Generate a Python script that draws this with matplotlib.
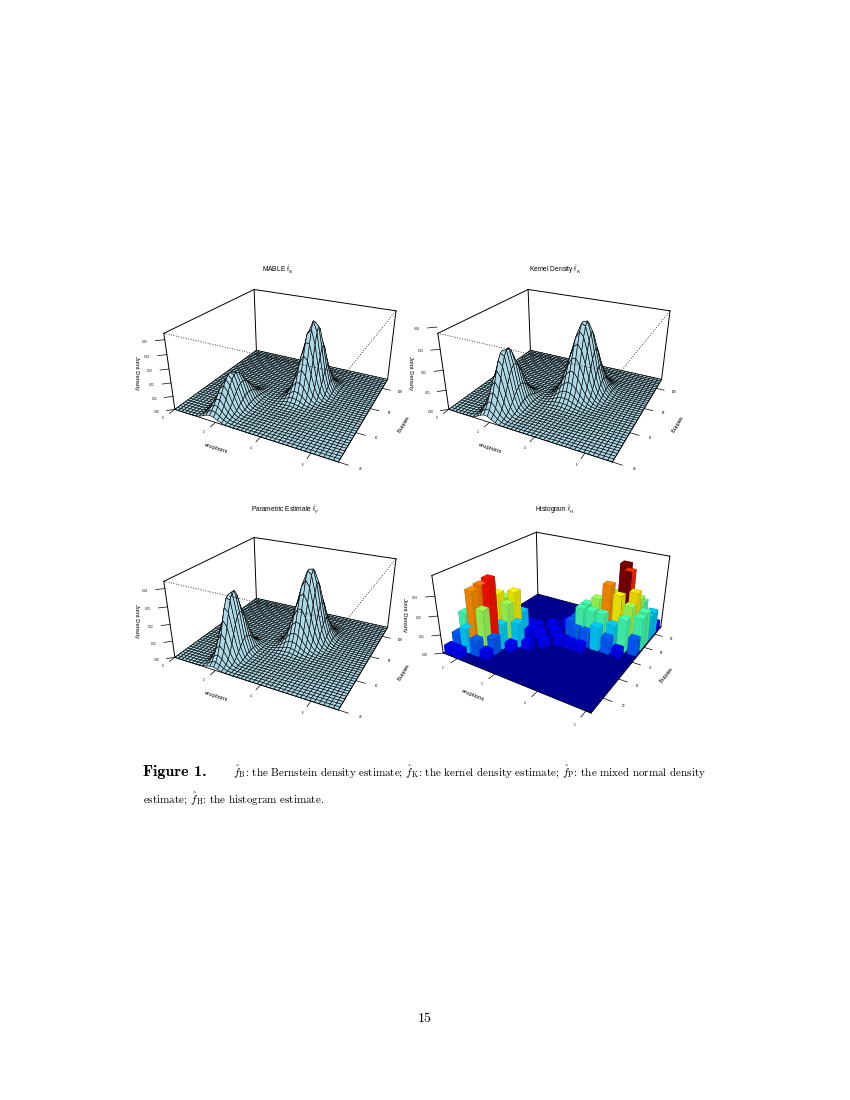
import numpy as np
import matplotlib
matplotlib.use("Agg")
import matplotlib.pyplot as plt
from mpl_toolkits.mplot3d import proj3d

plt.rcParams['mathtext.fontset'] = 'cm'
plt.rcParams['font.family'] = ['Liberation Sans', 'DejaVu Sans']

# ---------------- data ----------------
eruptions_range = [0.0, 7.0]
waiting_range = [40.0, 110.0]
eruptions_ticks = [0, 2, 4, 6]
waiting_ticks = [40, 60, 80, 100]
grid_points = 41

# MABLE (Bernstein) estimate: two bumps
mable_weight = [0.36, 0.64]
mable_mean_e = [2.00, 4.40]
mable_mean_w = [54.5, 81.0]
mable_sd_e = [0.32, 0.36]
mable_sd_w = [7.5, 5.8]
mable_rho = [0.40, 0.45]
mable_zticks = [0.00, 0.01, 0.02, 0.03, 0.04, 0.05]

# Kernel density estimate
kernel_weight = [0.36, 0.64]
kernel_mean_e = [2.03, 4.30]
kernel_mean_w = [54.5, 80.0]
kernel_sd_e = [0.30, 0.45]
kernel_sd_w = [6.8, 6.4]
kernel_rho = [0.35, 0.35]
kernel_zticks = [0.00, 0.01, 0.02, 0.03, 0.04]

# Parametric (mixed normal) estimate
param_weight = [0.356, 0.644]
param_mean_e = [2.036, 4.290]
param_mean_w = [54.48, 79.97]
param_sd_e = [0.263, 0.412]
param_sd_w = [5.80, 6.00]
param_rho = [0.285, 0.380]
param_zticks = [0.00, 0.01, 0.02, 0.03, 0.04]

# Histogram estimate
hist_e_edges = [1.60, 1.85, 2.10, 2.35, 2.60, 2.85, 3.10, 3.35, 3.60, 3.85, 4.10, 4.35, 4.60, 4.85, 5.10]
hist_w_edges = [43.0, 46.8, 50.6, 54.4, 58.1, 61.9, 65.7, 69.5, 73.3, 77.1, 80.9, 84.6, 88.4, 92.2, 96.0]
hist_counts = [
    [1, 2, 4, 2, 1, 1, 0, 0, 0, 0, 0, 0, 0, 0],
    [1, 3, 7, 7, 5, 3, 1, 0, 0, 0, 0, 0, 0, 0],
    [0, 2, 5, 8, 6, 5, 2, 0, 0, 0, 0, 0, 0, 0],
    [0, 1, 2, 3, 5, 6, 3, 1, 0, 0, 0, 0, 0, 0],
    [0, 0, 0, 1, 3, 1, 1, 1, 0, 0, 0, 0, 0, 0],
    [0, 0, 0, 0, 1, 0, 1, 0, 1, 0, 0, 0, 0, 0],
    [0, 0, 0, 0, 0, 1, 0, 1, 0, 1, 0, 0, 0, 0],
    [0, 0, 0, 0, 0, 0, 1, 0, 2, 2, 1, 0, 0, 0],
    [0, 0, 0, 0, 0, 0, 1, 2, 4, 4, 2, 1, 0, 0],
    [0, 0, 0, 0, 0, 0, 1, 2, 4, 5, 4, 2, 1, 0],
    [0, 0, 0, 0, 0, 0, 0, 3, 4, 7, 5, 5, 3, 1],
    [0, 0, 0, 0, 0, 0, 0, 2, 3, 6, 9, 8, 4, 1],
    [0, 0, 0, 0, 0, 0, 0, 1, 4, 5, 6, 5, 4, 2],
    [0, 0, 0, 0, 0, 0, 0, 0, 2, 4, 4, 3, 3, 1],
]
hist_e_ticks = [2, 3, 4, 5]
hist_w_ticks = [50, 60, 70, 80, 90]
hist_zticks = [0.00, 0.01, 0.02, 0.03]

titles = [r'MABLE $\hat{\mathsf{f}}_{\mathsf{B}}$', r'Kernel Density $\hat{\mathsf{f}}_{\mathsf{K}}$',
          r'Parametric Estimate $\hat{\mathsf{f}}_{\mathsf{P}}$', r'Histogram $\hat{\mathsf{f}}_{\mathsf{H}}$']

# ---------------- view settings ----------------
SURF_VIEW = dict(elev=26, azim=-63, focal=0.20, box=(1.1, 1.0, 0.52), zoom=0.63)
HIST_VIEW = dict(elev=26, azim=-58, focal=0.20, box=(1.0, 1.0, 0.50), zoom=0.64)


def mixture(E, W, wts, me, mw, se, sw, rho):
    Z = np.zeros_like(E)
    for p, a, b, s1, s2, r in zip(wts, me, mw, se, sw, rho):
        u = (E - a) / s1
        v = (W - b) / s2
        q = (u * u - 2 * r * u * v + v * v) / (1 - r * r)
        Z += p * np.exp(-q / 2) / (2 * np.pi * s1 * s2 * np.sqrt(1 - r * r))
    return Z


fig = plt.figure(figsize=(8.5, 11), dpi=100)


def P(ax, x, y, z):
    xs, ys, _ = proj3d.proj_transform(np.atleast_1d(float(x)), np.atleast_1d(float(y)),
                                      np.atleast_1d(float(z)), ax.get_proj())
    return xs[0], ys[0]


def angle(ax, p0, p1):
    a = P(ax, *p0)
    b = P(ax, *p1)
    return np.degrees(np.arctan2(b[1] - a[1], b[0] - a[0]))


def make_axes(rect, xr, yr, zr, view):
    ax = fig.add_axes(rect, projection='3d')
    ax.patch.set_visible(False)
    ax.set_proj_type('persp', focal_length=view['focal'])
    ax.view_init(elev=view['elev'], azim=view['azim'])
    ax.set_box_aspect(view['box'], zoom=view['zoom'])
    ax.set_xlim(xr)
    ax.set_ylim(yr)
    ax.set_zlim(zr)
    ax.set_axis_off()
    ax.computed_zorder = False
    return ax


def box_back(ax, xr, yr, zr):
    x0, x1 = xr
    y0, y1 = yr
    z0, z1 = zr
    kw = dict(color='black', lw=0.7, zorder=1)
    ax.plot([x0, x0], [y0, y0], [z0, z1], **kw)
    ax.plot([x0, x0], [y1, y1], [z0, z1], **kw)
    ax.plot([x1, x1], [y1, y1], [z0, z1], **kw)
    ax.plot([x0, x0], [y0, y1], [z1, z1], **kw)
    ax.plot([x0, x1], [y1, y1], [z1, z1], **kw)
    ax.plot([x0, x0], [y0, y1], [z0, z0], **kw)
    ax.plot([x0, x1], [y1, y1], [z0, z0], **kw)


def box_front(ax, xr, yr, zr, dotted=True):
    x0, x1 = xr
    y0, y1 = yr
    z0, z1 = zr
    if dotted:
        kw = dict(color='black', lw=0.6, ls=(0, (1, 2)), zorder=4)
        ax.plot([x0, x1], [y0, y0], [z1, z1], **kw)
        ax.plot([x1, x1], [y0, y1], [z1, z1], **kw)
    kw = dict(color='black', lw=0.6, zorder=4)
    ax.plot([x0, x1], [y0, y0], [z0, z0], **kw)
    ax.plot([x1, x1], [y0, y1], [z0, z0], **kw)


def axes_decor(ax, xr, yr, zr, xt, yt, zt, zfmt):
    x0, x1 = xr
    y0, y1 = yr
    z0, z1 = zr
    dx, dy = x1 - x0, y1 - y0
    kw = dict(color='black', lw=0.5, zorder=4)
    fs = 2.2
    for t in xt:
        ax.plot([t, t], [y0, y0 - 0.05 * dy], [z0, z0], **kw)
        px, py = P(ax, t, y0 - 0.11 * dy, z0)
        ax.text2D(px, py, f"{t:g}", transform=ax.transData, fontsize=fs, ha='center', va='center')
    for t in yt:
        ax.plot([x1, x1 + 0.05 * dx], [t, t], [z0, z0], **kw)
        px, py = P(ax, x1 + 0.11 * dx, t, z0)
        ax.text2D(px, py, f"{t:g}", transform=ax.transData, fontsize=fs, ha='center', va='center')
    for t in zt:
        ax.plot([x0, x0 - 0.035 * dx], [y0, y0 - 0.035 * dy], [t, t], **kw)
        px, py = P(ax, x0 - 0.075 * dx, y0 - 0.075 * dy, t)
        ax.text2D(px, py, zfmt.format(t), transform=ax.transData, fontsize=fs, ha='center', va='center')
    # axis titles
    ang = angle(ax, (x0, y0, z0), (x1, y0, z0))
    px, py = P(ax, x0 + 0.42 * dx, y0 - 0.20 * dy, z0)
    ax.text2D(px, py, 'eruptions', transform=ax.transData, fontsize=4.2, ha='center', va='center',
              rotation=ang, rotation_mode='anchor')
    ang = angle(ax, (x1, y0, z0), (x1, y1, z0))
    px, py = P(ax, x1 + 0.20 * dx, y0 + 0.5 * dy, z0)
    ax.text2D(px, py, 'waiting', transform=ax.transData, fontsize=4.2, ha='center', va='center',
              rotation=ang - 180, rotation_mode='anchor')
    px, py = P(ax, x0 - 0.125 * dx, y0 - 0.125 * dy, 0.55 * (z0 + z1))
    ax.text2D(px, py, 'Joint Density', transform=ax.transData, fontsize=4.2, ha='center', va='center',
              rotation=-90, rotation_mode='anchor')


E, W = np.meshgrid(np.linspace(eruptions_range[0], eruptions_range[1], grid_points),
                   np.linspace(waiting_range[0], waiting_range[1], grid_points), indexing='ij')

surfaces = [
    mixture(E, W, mable_weight, mable_mean_e, mable_mean_w, mable_sd_e, mable_sd_w, mable_rho),
    mixture(E, W, kernel_weight, kernel_mean_e, kernel_mean_w, kernel_sd_e, kernel_sd_w, kernel_rho),
    mixture(E, W, param_weight, param_mean_e, param_mean_w, param_sd_e, param_sd_w, param_rho),
]
zticks_list = [mable_zticks, kernel_zticks, param_zticks]

AW = 0.44
AH = AW * 850 / 1100
centers = [(283, 364), (557, 364), (283, 612), (553, 609)]
rects = [[cx / 850 - AW / 2, 1 - cy / 1100 - AH / 2, AW, AH] for cx, cy in centers]
title_pos = [(278, 270), (555, 270), (285, 510), (555, 510)]

for k in range(3):
    Z = surfaces[k]
    zr = (0.0, float(Z.max()))
    ax = make_axes(rects[k], eruptions_range, waiting_range, zr, SURF_VIEW)
    box_back(ax, eruptions_range, waiting_range, zr)
    ax.plot_surface(E, W, Z, color='#ADD8E6', edgecolor='#000000', linewidth=0.42,
                    rstride=1, cstride=1, shade=False, antialiased=True, zorder=2)
    box_front(ax, eruptions_range, waiting_range, zr)
    axes_decor(ax, eruptions_range, waiting_range, zr, eruptions_ticks, waiting_ticks,
               zticks_list[k], "{:.2f}")

# histogram panel
counts = np.array(hist_counts, dtype=float)
ee = np.array(hist_e_edges)
we = np.array(hist_w_edges)
dens = counts / (counts.sum() * np.outer(np.diff(ee), np.diff(we)))
hx = (ee[0], ee[-1])
hy = (we[0], we[-1])
hz = (0.0, float(dens.max()))
ax = make_axes(rects[3], hx, hy, hz, HIST_VIEW)
box_back(ax, hx, hy, hz)
FX, FY = np.meshgrid([ee[0], ee[-1]], [we[0], we[-1]], indexing='ij')
ax.plot_surface(FX, FY, np.zeros_like(FX), color='#00008F', shade=False, linewidth=0, zorder=2)
cmap = plt.get_cmap('jet')
ii, jj = np.nonzero(counts)
bw = 0.78
xs = ee[ii] + (1 - bw) / 2 * np.diff(ee)[ii]
ys = we[jj] + (1 - bw) / 2 * np.diff(we)[jj]
base = cmap(dens[ii, jj] / dens.max())[:, :3]
face_factor = [1.0, 1.0, 0.9, 0.8, 0.75, 0.85]
face_cols = []
for c in base:
    for f in face_factor:
        face_cols.append(tuple(np.clip(c * f, 0, 1)))
ax.bar3d(xs, ys, np.zeros(len(ii)), bw * np.diff(ee)[ii], bw * np.diff(we)[jj], dens[ii, jj],
         color=face_cols, shade=False, zorder=3, edgecolor=(0, 0, 0, 0.15), linewidth=0.2)
box_front(ax, hx, hy, hz, dotted=False)
axes_decor(ax, hx, hy, hz, hist_e_ticks, hist_w_ticks, hist_zticks, "{:.2f}")

for (tx, ty), t in zip(title_pos, titles):
    fig.text(tx / 850, 1 - ty / 1100, t, fontsize=4.8, ha='center', va='center')

# caption
fig.text(143 / 850, 1 - 776 / 1100, 'Figure 1.', fontfamily='cmb10', fontsize=11.5, ha='left', va='baseline')
fig.text(233 / 850, 1 - 776 / 1100,
         r'$\hat{f}_{\mathrm{B}}$: the Bernstein density estimate; $\hat{f}_{\mathrm{K}}$: the kernel density estimate; '
         r'$\hat{f}_{\mathrm{P}}$: the mixed normal density',
         fontfamily='cmr10', fontsize=7.95, ha='left', va='baseline')
fig.text(143 / 850, 1 - 803 / 1100, r'estimate; $\hat{f}_{\mathrm{H}}$: the histogram estimate.',
         fontfamily='cmr10', fontsize=7.95, ha='left', va='baseline')
fig.text(425 / 850, 1 - 1022 / 1100, '15', fontfamily='cmr10', fontsize=10, ha='center', va='baseline')

fig.savefig('out.png', dpi=100)
